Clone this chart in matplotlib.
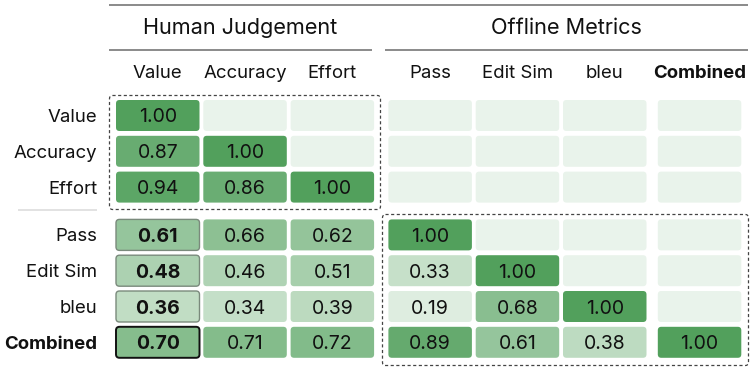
import matplotlib
matplotlib.use("Agg")
import matplotlib.pyplot as plt
from matplotlib.patches import FancyBboxPatch
import numpy as np

plt.rcParams['font.family'] = ['Inter', 'DejaVu Sans']

# ---- data ----
row_labels = ["Value", "Accuracy", "Effort", "Pass", "Edit Sim", "bleu", "Combined"]
col_labels = ["Value", "Accuracy", "Effort", "Pass", "Edit Sim", "bleu", "Combined"]
group_labels = ["Human Judgement", "Offline Metrics"]
row_value = [1.00]
row_accuracy = [0.87, 1.00]
row_effort = [0.94, 0.86, 1.00]
row_pass = [0.61, 0.66, 0.62, 1.00]
row_editsim = [0.48, 0.46, 0.51, 0.33, 1.00]
row_bleu = [0.36, 0.34, 0.39, 0.19, 0.68, 1.00]
row_combined = [0.70, 0.71, 0.72, 0.89, 0.61, 0.38, 1.00]
rows_values = [row_value, row_accuracy, row_effort, row_pass, row_editsim, row_bleu, row_combined]

# ---- layout (pixels) ----
W, H = 752, 370
fig = plt.figure(figsize=(W / 100, H / 100), dpi=100)
ax = fig.add_axes([0, 0, 1, 1])
ax.set_xlim(0, W)
ax.set_ylim(H, 0)
ax.axis('off')

X0, XP, CW = 116.0, 87.3, 83.5
Y0, YP, CH = 100.0, 35.8, 31.0

def col_x(c):
    return X0 + XP * c + 10.5 * (c >= 3) + 7.5 * (c >= 6)

def row_y(r):
    return Y0 + YP * r + 12.0 * (r >= 3)

base = np.array([82, 160, 92]) / 255.0

def cell_color(v):
    return tuple(1 - (1 - base) * v)

EMPTY_ALPHA = 0.125
FS_LAB = 13.4
FS_NUM = 14.0

for r in range(7):
    vals = rows_values[r]
    for c in range(7):
        x, y = col_x(c), row_y(r)
        if c < len(vals):
            v = vals[c]
            fc = cell_color(v)
        else:
            v = None
            fc = cell_color(EMPTY_ALPHA)
        highlight = (c == 0 and r >= 3)
        ec = 'none'
        lw = 0
        if highlight:
            ec = '#111111' if r == 6 else '#7a8a7c'
            lw = 1.4 if r == 6 else 1.0
        p = FancyBboxPatch((x, y), CW, CH, boxstyle="round,pad=0,rounding_size=3.5",
                           fc=fc, ec=ec, lw=lw, mutation_aspect=1)
        ax.add_patch(p)
        if v is not None:
            ax.text(x + CW / 2, y + CH / 2 + 2, f"{v:.2f}", ha='center', va='center',
                    fontsize=FS_NUM, color='#111111',
                    fontweight='bold' if highlight else 'normal')

# column labels
for c, lab in enumerate(col_labels):
    ax.text(col_x(c) + CW / 2, 73, lab, ha='center', va='center', fontsize=FS_LAB,
            color='#111111', fontweight='bold' if lab == "Combined" else 'normal')

# row labels
for r, lab in enumerate(row_labels):
    ax.text(97, row_y(r) + CH / 2 + 2, lab, ha='right', va='center', fontsize=FS_LAB,
            color='#111111', fontweight='bold' if lab == "Combined" else 'normal')

# group headers
ax.text((109 + 372) / 2, 28, group_labels[0], ha='center', va='center', fontsize=15.6, color='#111111')
ax.text((385 + 748) / 2, 28, group_labels[1], ha='center', va='center', fontsize=15.6, color='#111111')

# rules
ax.plot([109, 748], [5, 5], color='#777777', lw=1.2, solid_capstyle='butt')
ax.plot([109, 372], [50, 50], color='#777777', lw=1.2, solid_capstyle='butt')
ax.plot([385, 748], [50, 50], color='#777777', lw=1.2, solid_capstyle='butt')
ax.plot([18, 97], [210, 210], color='#dddddd', lw=1.2, solid_capstyle='butt')

# dashed boxes
for (x1, y1, x2, y2) in [(109.5, 95.5, 380.5, 209.5), (382.5, 214.5, 748.5, 365.5)]:
    b = FancyBboxPatch((x1, y1), x2 - x1, y2 - y1, boxstyle="round,pad=0,rounding_size=3",
                       fc='none', ec='#444444', lw=0.9, linestyle=(0, (2.5, 2)))
    ax.add_patch(b)

fig.savefig("out.png", dpi=100)
